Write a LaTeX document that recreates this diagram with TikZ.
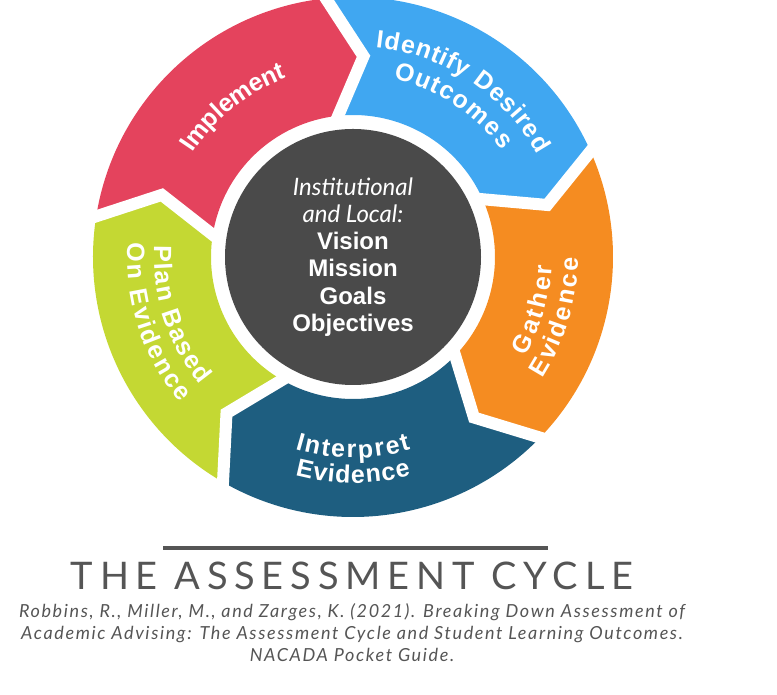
\documentclass[tikz,border=0pt]{standalone}
\usepackage{fontspec}
\usetikzlibrary{decorations.text,calc}
\setmainfont{Liberation Sans}
\newfontfamily\segfam{Liberation Sans}
\newfontfamily\hubfam{Liberation Sans}
\newfontfamily\hubitfam{Lato}
\newfontfamily\titlefam[LetterSpace=18]{Lato}
\newfontfamily\citefam[LetterSpace=9]{Lato}
\newcommand\segfont{\segfam\bfseries\fontsize{25}{25}\selectfont}
\newcommand\hubsize{\fontsize{24}{27.3}\selectfont}
\newcommand\titlefont{\titlefam\fontsize{38}{40}\selectfont}
\newcommand\citefont{\citefam\itshape\fontsize{18}{20}\selectfont}
\definecolor{cRed}{HTML}{E4435D}
\definecolor{cBlue}{HTML}{40A7F1}
\definecolor{cOrange}{HTML}{F58C21}
\definecolor{cTeal}{HTML}{1E5E80}
\definecolor{cGreen}{HTML}{C4D833}
\definecolor{cHub}{HTML}{4A4A4A}
\definecolor{cTitle}{HTML}{555555}
\tikzset{
  seglabel/.style={font=\segfont, decorate, decoration={text effects along path, text={#1},
      text effects/.cd, text along path, fit text to path,
      characters={text=white, font=\segfont, inner sep=0pt}}},
  gapline/.style={white, line width=12pt, line join=miter},
  citeline/.style={font=\citefont, text=cTitle, anchor=base, inner sep=0pt}
}
\begin{document}
\begin{tikzpicture}[x=1pt,y=1pt]
\useasboundingbox (0,0) rectangle (777,695);
\clip (0,0) rectangle (777,695);
\begin{scope}[shift={(353,438)}]
  \def\Rout{260}\def\Rin{142}\def\Rmid{201}\def\dlt{9}
  % ring segments (tail angle / head angle / colour), clockwise
  \foreach \a/\b/\c in {171/96/cRed, 96/24/cBlue, 24/-44/cOrange, -44/-120/cTeal, 240/171/cGreen}{
    \fill[\c] (\a:\Rout) arc[start angle=\a, end angle=\b, radius=\Rout]
      -- ({\b-\dlt}:\Rmid) -- (\b:\Rin) arc[start angle=\b, end angle=\a, radius=\Rin]
      -- ({\a-\dlt}:\Rmid) -- cycle;
  }
  % white chevron gaps
  \foreach \t in {96,24,-44,-120,171}{
    \coordinate (go) at (\t:\Rout);
    \coordinate (gm) at ({\t-\dlt}:\Rmid);
    \coordinate (gi) at (\t:\Rin);
    \draw[gapline] ($(gm)!1.45!(go)$) -- (gm) -- ($(gm)!1.45!(gi)$);
  }
  % hub
  \node (hub) [circle, fill=cHub, minimum size=256pt, inner sep=0pt] at (0,0) {};
  \node (hubtext) [align=center, text=white, inner sep=0pt, font=\hubsize] at (0,0)
    {\hubitfam\itshape Institutional\\\hubitfam\itshape and Local:\\\hubfam\bfseries Vision\\\hubfam\bfseries Mission\\\hubfam\bfseries Goals\\\hubfam\bfseries Objectives};
  % segment labels
  \path[seglabel={Implement}] (147:191) arc[start angle=147, end angle=110.3, radius=191];
  \path[seglabel={Identify Desired}] (83.85:211) arc[start angle=83.85, end angle=29.15, radius=211];
  \path[seglabel={Outcomes}] (77.25:183) arc[start angle=77.25, end angle=35.75, radius=183];
  \path[seglabel={Gather}] (-30.1:199) arc[start angle=-30.1, end angle=-2.4, radius=199];
  \path[seglabel={Evidence}] (-32.8:225) arc[start angle=-32.8, end angle=-0.2, radius=225];
  \path[seglabel={Interpret}] (-106.7:201) arc[start angle=-106.7, end angle=-73.3, radius=201];
  \path[seglabel={Evidence}] (-104.85:226) arc[start angle=-104.85, end angle=-75.15, radius=226];
  \path[seglabel={Plan Based}] (176.7:199) arc[start angle=176.7, end angle=219.8, radius=199];
  \path[seglabel={On Evidence}] (176.4:226) arc[start angle=176.4, end angle=220, radius=226];
\end{scope}
% title block
\coordinate (ruleL) at (163,147);
\coordinate (ruleR) at (548,147);
\draw[cTitle, line width=4pt] (ruleL) -- (ruleR);
\node (title) [font=\titlefont, text=cTitle, anchor=base, inner sep=0pt] at (352,105) {THE ASSESSMENT CYCLE};
\node (cite1) [citeline] at (352,77) {Robbins, R., Miller, M., and Zarges, K. (2021). Breaking Down Assessment of};
\node (cite2) [citeline] at (352,55) {Academic Advising: The Assessment Cycle and Student Learning Outcomes.};
\node (cite3) [citeline] at (352,33) {NACADA Pocket Guide.};
\end{tikzpicture}
\end{document}
